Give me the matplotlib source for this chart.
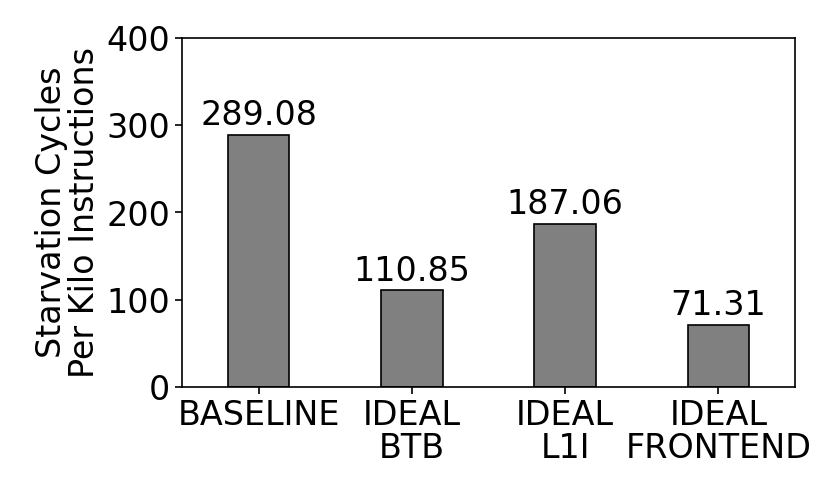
import matplotlib
matplotlib.use("Agg")
import matplotlib.pyplot as plt

categories = ["BASELINE", "IDEAL\nBTB", "IDEAL\nL1I", "IDEAL\nFRONTEND"]
values = [289.08, 110.85, 187.06, 71.31]
yticks = [0, 100, 200, 300, 400]

plt.rcParams["font.family"] = "DejaVu Sans"

fig = plt.figure(figsize=(8.3, 4.98), dpi=100)
ax = fig.add_axes([182 / 830, 1 - 387 / 498, (795 - 182) / 830, (387 - 38) / 498])

x = range(len(categories))
ax.bar(x, values, width=0.4, color="#808080", edgecolor="black", linewidth=1.2)

for xi, v in zip(x, values):
    ax.text(xi, v + 3, f"{v:.2f}", ha="center", va="bottom", fontsize=24)

ax.set_xlim(-0.5, 3.5)
ax.set_ylim(0, 400)
ax.set_yticks(yticks)
ax.set_xticks(list(x))
ax.set_xticklabels(categories, fontsize=24, linespacing=1.0)
ax.tick_params(axis="y", labelsize=24)
ax.tick_params(length=5, width=1.2)
for spine in ax.spines.values():
    spine.set_linewidth(1.2)
ax.set_ylabel("Starvation Cycles\nPer Kilo Instructions", fontsize=24, linespacing=1.0)

fig.savefig("out.png", dpi=100)
